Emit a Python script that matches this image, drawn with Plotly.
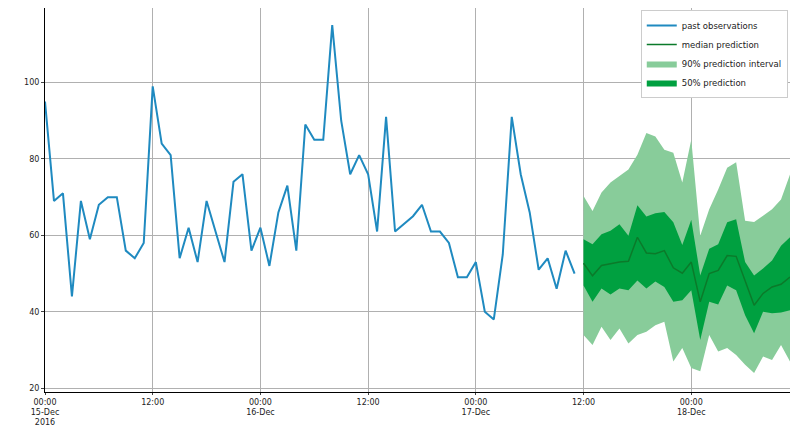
import plotly.graph_objects as go
import pandas as pd

obs = [95,69,71,44,69,59,68,70,70,56,54,58,99,84,81,54,62,53,69,61,53,74,76,56,62,52,66,73,56,89,
       85,85,115,90,76,81,76,61,91,61,63,65,68,61,61,58,49,49,53,40,38,55,91,76,66,51,54,46,56,50]
median = [52.7,49.4,52.1,52.6,53.0,53.2,59.5,55.4,55.2,56.0,51.5,50.1,53.0,42.6,50.0,50.8,54.7,54.5,48.2,41.7,44.8,46.5,47.2,49.1]
up90 = [70.3,66.4,71.2,73.8,75.5,77.2,81.1,86.8,85.9,82.4,81.6,73.8,85.0,59.9,66.8,72.0,77.7,79.1,63.8,63.5,65.1,66.8,69.4,75.9]
lo90 = [33.9,31.3,36.1,32.6,35.6,31.7,33.9,34.8,36.5,37.4,27.0,30.5,25.3,24.4,33.9,29.6,30.5,28.7,26.1,24.0,28.3,27.4,31.3,27.0]
up50 = [59.0,57.7,60.3,61.2,62.9,59.9,67.9,64.9,65.8,66.1,63.4,57.5,64.1,49.5,56.5,57.7,63.4,64.2,53.0,49.5,51.3,53.4,57.3,59.5]
lo50 = [46.9,42.6,46.1,44.5,46.1,45.6,48.2,46.1,47.9,46.5,42.6,43.0,45.6,32.6,42.6,41.9,46.9,45.6,39.1,34.4,40.0,39.6,39.8,40.4]

t_obs = pd.date_range("2016-12-15 00:00", periods=len(obs), freq="h")
t_fc = pd.date_range("2016-12-17 12:00", periods=len(median), freq="h")
tickvals = pd.date_range("2016-12-15 00:00", periods=7, freq="12h")
ticktext = ["00:00<br>15-Dec<br>2016", "12:00", "00:00<br>16-Dec", "12:00",
            "00:00<br>17-Dec", "12:00", "00:00<br>18-Dec"]

fig = go.Figure()
fig.add_trace(go.Scatter(x=t_obs, y=obs, mode="lines", line=dict(color="#1f8ac0", width=2),
                         name="past observations", legendrank=1))
fig.add_trace(go.Scatter(x=t_fc, y=lo90, mode="lines", line=dict(width=0), showlegend=False, hoverinfo="skip"))
fig.add_trace(go.Scatter(x=t_fc, y=up90, mode="lines", line=dict(width=0), fill="tonexty",
                         fillcolor="#88cc9a", name="90% prediction interval", legendrank=3))
fig.add_trace(go.Scatter(x=t_fc, y=lo50, mode="lines", line=dict(width=0), showlegend=False, hoverinfo="skip"))
fig.add_trace(go.Scatter(x=t_fc, y=up50, mode="lines", line=dict(width=0), fill="tonexty",
                         fillcolor="#00a040", name="50% prediction", legendrank=4))
fig.add_trace(go.Scatter(x=t_fc, y=median, mode="lines", line=dict(color="#0b7a2a", width=1.5),
                         name="median prediction", legendrank=2))

fig.update_layout(
    width=798, height=418, margin=dict(l=37, r=16, t=0, b=34),
    plot_bgcolor="white", paper_bgcolor="white",
    font=dict(family="DejaVu Sans", size=8, color="#222"),
    legend=dict(x=0.997, y=0.995, xanchor="right", yanchor="top", bgcolor="white",
                bordercolor="#cccccc", borderwidth=1, font=dict(size=8.5), traceorder="normal",
                tracegroupgap=0, itemwidth=30),
    showlegend=True,
)
fig.update_xaxes(range=[t_obs[0], t_fc[-1]], tickvals=tickvals, ticktext=ticktext, automargin=False,
                 showgrid=True, gridcolor="#b0b0b0", gridwidth=1, showline=True, linecolor="black",
                 mirror=True, ticks="outside", ticklen=2, zeroline=False)
fig.update_yaxes(range=[19, 119.5], tickvals=[20,40,60,80,100], showgrid=True, gridcolor="#b0b0b0",
                 automargin=False, showline=True, linecolor="black", mirror=True, ticks="outside",
                 ticklen=3, zeroline=False)
fig.write_html("out.html")
